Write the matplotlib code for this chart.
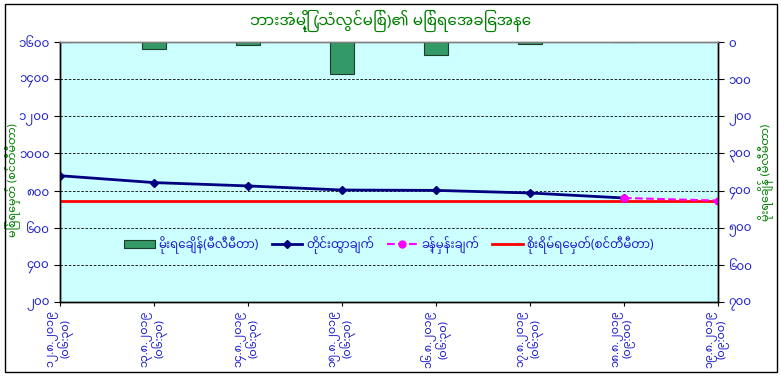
import matplotlib
matplotlib.use('Agg')
import matplotlib.pyplot as plt
from matplotlib import font_manager
import numpy as np

# pick a family that has Myanmar glyphs
available = {f.name for f in font_manager.fontManager.ttflist}
wanted = ['Noto Sans Myanmar', 'Padauk', 'Myanmar Sans Pro', 'TharLon']
plt.rcParams['font.family'] = [f for f in wanted if f in available] + ['DejaVu Sans']

title = 'ဘားအံမြို့ (သံလွင်မြစ်)၏ မြစ်ရေအခြေအနေ'
left_label = 'မြစ်ရေမှတ် (စင်တီမီတာ)'
right_label = 'မိုးရေချိန် (မီလီမီတာ)'

dates = ['၁၂.၈.၂၀၁၉', '၁၃.၈.၂၀၁၉', '၁၄.၈.၂၀၁၉', '၁၅.၈.၂၀၁၉',
         '၁၆.၈.၂၀၁၉', '၁၇.၈.၂၀၁၉', '၁၈.၈.၂၀၁၉', '၁၉.၈.၂၀၁၉']
times = ['(၀၆:၃၀)'] * 6 + ['(၀၉:၀၀)'] * 2

rain = [1, 19, 8, 86, 35, 5, 1, np.nan]
observed = [880, 843, 825, 803, 801, 787, 760, np.nan]
forecast = [np.nan] * 6 + [760, 746]
danger = [746] * 8

left_ticks = [200, 400, 600, 800, 1000, 1200, 1400, 1600]
left_tick_labels = ['၂၀၀', '၄၀၀', '၆၀၀', '၈၀၀', '၁၀၀၀', '၁၂၀၀', '၁၄၀၀', '၁၆၀၀']
right_ticks = [0, 100, 200, 300, 400, 500, 600, 700]
right_tick_labels = ['၀', '၁၀၀', '၂၀၀', '၃၀၀', '၄၀၀', '၅၀၀', '၆၀၀', '၇၀၀']

blue = '#1a1acc'
green = '#008000'

x = np.arange(len(dates))

fig = plt.figure(figsize=(7.81, 3.78), dpi=100)
ax = fig.add_axes([60 / 781, 1 - 302 / 378, 658 / 781, 260 / 378])
ax.set_facecolor('#ccffff')
ax2 = ax.twinx()

ax2.bar(x, rain, width=0.25, color='#339966', edgecolor='#1b3d2a', linewidth=0.8,
        label='မိုးရေချိန်(မီလီမီတာ)', zorder=2)
ax.plot(x, observed, color='#000080', lw=2, marker='D', ms=4.5,
        label='တိုင်းထွာချက်', zorder=4)
ax.plot(x, forecast, color='#ff00ff', lw=1.5, ls='--', marker='o', ms=5,
        label='ခန့်မှန်းချက်', zorder=4)
ax.plot(x, danger, color='#ff0000', lw=2, label='စိုးရိမ်ရေမှတ်(စင်တီမီတာ)', zorder=3)

ax.set_xlim(0, 7)
ax.set_ylim(200, 1600)
ax2.set_ylim(700, 0)
ax.set_yticks(left_ticks)
ax.set_yticklabels(left_tick_labels)
ax2.set_yticks(right_ticks)
ax2.set_yticklabels(right_tick_labels)
ax.set_xticks(x)
ax.set_xticklabels([d + '\n' + t for d, t in zip(dates, times)], rotation=90,
                   ha='center', va='top', color=blue, fontsize=8, linespacing=0.9)

for a in (ax, ax2):
    a.tick_params(axis='y', colors='black', labelcolor=blue, labelsize=8.5, length=4)
    for s in a.spines.values():
        s.set_color('black')
        s.set_linewidth(1)
    a.spines['top'].set_color('#808080')
ax.tick_params(axis='x', length=3, pad=3)
ax.yaxis.grid(True, color='black', ls=(0, (3, 2)), lw=0.6)
ax.set_axisbelow(True)

ax.set_ylabel(left_label, color=green, fontsize=8)
ax.yaxis.set_label_coords(-0.059, 0.47)
ax2.set_ylabel(right_label, color=green, fontsize=8)
ax2.yaxis.set_label_coords(1.060, 0.5)
fig.text(0.5, 0.945, title, ha='center', va='center', color=green,
         fontsize=11, fontweight='bold')

h1, l1 = ax2.get_legend_handles_labels()
h2, l2 = ax.get_legend_handles_labels()
leg = ax2.legend(h1 + h2, l1 + l2, loc='center', bbox_to_anchor=(0.5, 0.22),
                 ncol=4, frameon=False, fontsize=8.5, handlelength=2.6,
                 columnspacing=1.1, handletextpad=0.3)
for t in leg.get_texts():
    t.set_color(blue)

# chart border
fig.patches.append(plt.Rectangle((5 / 781, 6 / 378), 772 / 781, 368 / 378,
                                 transform=fig.transFigure, fill=False,
                                 edgecolor='black', lw=1))

fig.savefig('out.png', dpi=100)
